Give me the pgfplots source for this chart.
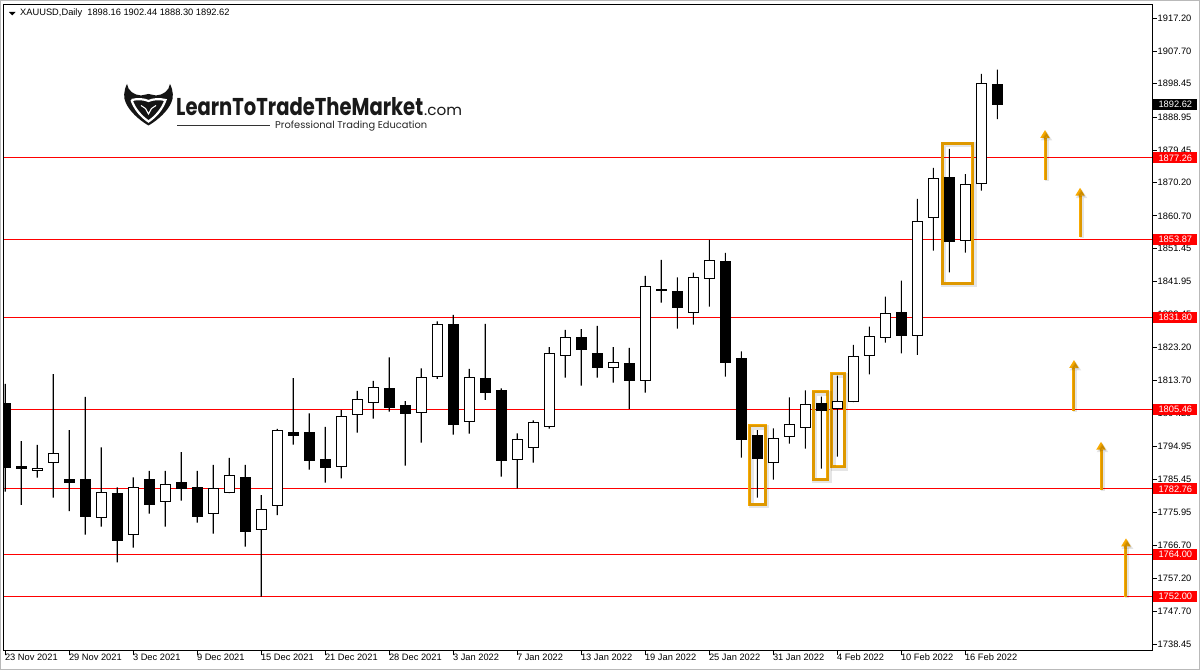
\documentclass[border=0pt]{standalone}
\usepackage{fontspec}
\setmainfont{Liberation Sans}
\newfontfamily\logofont{Poppins}
\usepackage{pgfplots}
\pgfplotsset{compat=1.18}
\usepackage{pgfplotstable}
\usetikzlibrary{arrows.meta}
\definecolor{mtorange}{RGB}{248,170,0}
\definecolor{mtred}{RGB}{255,0,0}
\newcommand\tf{\fontsize{9.3pt}{11pt}\selectfont}

\pgfplotstableread{
i O H L C
0 1806.98 1812.69 1781.93 1788.79
1 1789.27 1796.41 1778.14 1788.50
2 1787.93 1795.27 1785.93 1788.70
3 1790.22 1815.54 1780.22 1792.90
4 1785.56 1799.55 1776.42 1784.50
5 1785.28 1808.98 1769.66 1774.79
6 1774.62 1794.61 1771.94 1781.76
7 1781.56 1783.19 1761.77 1767.94
8 1769.77 1786.05 1765.94 1783.19
9 1785.28 1787.85 1775.65 1778.22
10 1779.19 1787.85 1771.94 1784.05
11 1784.42 1793.27 1779.36 1782.99
12 1783.19 1787.85 1773.08 1774.79
13 1775.65 1789.56 1769.94 1782.99
14 1781.76 1791.56 1781.50 1786.62
15 1786.13 1789.56 1766.23 1770.51
16 1771.20 1780.99 1752.00 1776.91
17 1778.05 1799.84 1775.28 1799.27
18 1798.90 1814.40 1795.41 1797.98
19 1798.90 1804.32 1788.22 1790.79
20 1791.19 1800.41 1784.50 1788.79
21 1789.19 1805.26 1785.76 1803.47
22 1804.04 1810.69 1798.78 1808.32
23 1807.46 1813.55 1802.78 1811.75
24 1811.46 1820.31 1804.78 1805.92
25 1806.61 1807.83 1789.36 1804.21
26 1804.61 1817.17 1795.93 1814.60
27 1814.89 1830.59 1814.12 1829.74
28 1829.54 1832.39 1798.21 1801.07
29 1802.04 1816.97 1798.50 1814.60
30 1814.32 1829.82 1808.12 1810.20
31 1810.69 1811.46 1786.22 1790.79
32 1791.19 1798.61 1782.85 1796.90
33 1794.56 1802.32 1790.22 1801.75
34 1800.61 1823.25 1799.92 1821.46
35 1820.77 1828.11 1814.49 1826.02
36 1826.02 1828.39 1812.20 1822.48
37 1821.46 1829.25 1814.49 1817.34
38 1817.46 1823.25 1813.06 1818.77
39 1818.60 1822.97 1805.55 1813.63
40 1813.75 1843.53 1810.20 1840.59
41 1839.73 1848.10 1835.90 1839.33
42 1839.24 1843.16 1828.48 1834.48
43 1833.16 1844.47 1829.62 1843.16
44 1842.87 1853.81 1834.76 1848.01
45 1847.73 1850.10 1814.77 1818.83
46 1820.03 1822.03 1791.64 1796.78
47 1798.04 1799.55 1780.22 1791.47
48 1790.33 1800.04 1785.36 1797.18
49 1797.75 1808.89 1795.64 1801.07
50 1800.32 1810.89 1794.21 1806.89
51 1806.98 1809.06 1788.50 1804.98
52 1805.55 1815.06 1791.93 1807.83
53 1807.83 1823.83 1807.50 1820.60
54 1820.88 1829.05 1815.46 1826.11
55 1826.02 1837.62 1824.48 1832.88
56 1833.16 1842.19 1821.46 1826.48
57 1826.59 1865.52 1820.97 1859.03
58 1860.29 1874.37 1850.75 1871.43
59 1871.71 1879.79 1844.58 1853.32
60 1853.72 1872.65 1850.18 1869.71
61 1870.00 1901.21 1867.89 1898.55
62 1898.16 1902.44 1888.30 1892.62
}\ohlc

\pgfplotsset{cax/.style={
  scale only axis, width=1149.5pt, height=646pt,
  at={(3pt,19.5pt)}, anchor=south west,
  xmin=-0.144, xmax=71.70, ymin=1736.59, ymax=1921.05,
  scaled x ticks=false, scaled y ticks=false,
}}
\tikzset{
obox/.style={mtorange, line width=3pt},
oshad/.style={black, opacity=0.10, line width=5pt},
oarr/.style={mtorange, line width=3pt, -{Triangle[width=9pt,length=8pt]}},
ashad/.style={black, opacity=0.10, line width=4pt, -{Triangle[width=11pt,length=9pt]}},
plab/.style={anchor=west, fill=mtred, text=white, font=\tf, minimum width=44pt, minimum height=11pt, inner sep=0pt, xshift=0.6pt},
}

\begin{document}
\begin{tikzpicture}[x=1pt,y=1pt]
\useasboundingbox (0,0) rectangle (1200,670);
\fill[white] (0,0) rectangle (1200,670);
\draw[gray!55, line width=1pt] (0.5,0.5) rectangle (1199.5,669.5);

% ---- axis L: levels
\begin{axis}[cax, hide axis, clip=false]
\addplot[mtred, line width=1pt, forget plot] coordinates {(-0.144,1877.26) (71.70,1877.26)};
\addplot[mtred, line width=1pt, forget plot] coordinates {(-0.144,1853.87) (71.70,1853.87)};
\addplot[mtred, line width=1pt, forget plot] coordinates {(-0.144,1831.80) (71.70,1831.80)};
\addplot[mtred, line width=1pt, forget plot] coordinates {(-0.144,1805.46) (71.70,1805.46)};
\addplot[mtred, line width=1pt, forget plot] coordinates {(-0.144,1782.76) (71.70,1782.76)};
\addplot[mtred, line width=1pt, forget plot] coordinates {(-0.144,1764.00) (71.70,1764.00)};
\addplot[mtred, line width=1pt, forget plot] coordinates {(-0.144,1752.00) (71.70,1752.00)};
\end{axis}

% ---- axis W: wicks (low to high)
\begin{axis}[cax, hide axis, ybar stacked, bar width=1.15pt]
\addplot[draw=none, fill=none] table[x=i, y=L] {\ohlc};
\addplot[draw=none, fill=black] table[x=i, y expr={\thisrow{H}-\thisrow{L}}] {\ohlc};
\end{axis}

% ---- axis B: bodies, frame, ticks, annotations
\begin{axis}[cax, ybar stacked, bar width=9.6pt,
  axis line style={black, line width=0.9pt},
  xtick={0,4,...,60},
  xticklabels={23 Nov 2021,29 Nov 2021,3 Dec 2021,9 Dec 2021,15 Dec 2021,21 Dec 2021,28 Dec 2021,3 Jan 2022,7 Jan 2022,13 Jan 2022,19 Jan 2022,25 Jan 2022,31 Jan 2022,4 Feb 2022,10 Feb 2022,16 Feb 2022},
  ytick={1738.45,1747.70,1757.20,1766.70,1775.95,1785.45,1794.95,1804.20,1813.70,1823.20,1832.45,1841.95,1851.45,1860.70,1870.20,1879.45,1888.95,1898.45,1907.70,1917.20},
  yticklabels={1738.45,1747.70,1757.20,1766.70,1775.95,1785.45,1794.95,1804.20,1813.70,1823.20,1832.45,1841.95,1851.45,1860.70,1870.20,1879.45,1888.95,1898.45,1907.70,1917.20},
  xtick pos=bottom, ytick pos=right, yticklabel pos=right,
  tick align=outside, major tick length=4pt,
  tick style={black, line width=0.8pt},
  xticklabel style={anchor=north west, font=\tf, xshift=-1.5pt, yshift=1.5pt, inner sep=1pt},
  yticklabel style={anchor=west, font=\tf, inner sep=1pt},
]
\addplot[draw=none, fill=none] table[x=i, y expr={min(\thisrow{O},\thisrow{C})}] {\ohlc};
\addplot[draw=black, fill=white, line width=1pt] table[x=i, y expr={max(\thisrow{C}-\thisrow{O},0)}] {\ohlc};
\addplot[draw=black, fill=black, line width=1pt] table[x=i, y expr={max(\thisrow{O}-\thisrow{C},0)}] {\ohlc};

% orange boxes (soft shadow then box)
\draw[oshad] ([shift={(1.5pt,-1.5pt)}]axis cs:46.53,1800.75) rectangle ([shift={(1.5pt,-1.5pt)}]axis cs:47.49,1778.37);
\draw[obox] (axis cs:46.53,1800.75) rectangle (axis cs:47.49,1778.37);
\draw[oshad] ([shift={(1.5pt,-1.5pt)}]axis cs:50.51,1810.46) rectangle ([shift={(1.5pt,-1.5pt)}]axis cs:51.41,1785.42);
\draw[obox] (axis cs:50.51,1810.46) rectangle (axis cs:51.41,1785.42);
\draw[oshad] ([shift={(1.5pt,-1.5pt)}]axis cs:51.64,1815.60) rectangle ([shift={(1.5pt,-1.5pt)}]axis cs:52.43,1789.04);
\draw[obox] (axis cs:51.64,1815.60) rectangle (axis cs:52.43,1789.04);
\draw[oshad] ([shift={(1.5pt,-1.5pt)}]axis cs:58.56,1881.45) rectangle ([shift={(1.5pt,-1.5pt)}]axis cs:60.47,1841.39);
\draw[obox] (axis cs:58.56,1881.45) rectangle (axis cs:60.47,1841.39);
% orange arrows
\draw[ashad] ([shift={(1.5pt,-1.5pt)}]axis cs:64.98,1870.94) -- ([shift={(1.5pt,-1.5pt)}]axis cs:64.98,1885.22);
\draw[oarr] (axis cs:64.98,1870.94) -- (axis cs:64.98,1885.22);
\draw[ashad] ([shift={(1.5pt,-1.5pt)}]axis cs:67.17,1854.75) -- ([shift={(1.5pt,-1.5pt)}]axis cs:67.17,1868.74);
\draw[oarr] (axis cs:67.17,1854.75) -- (axis cs:67.17,1868.74);
\draw[ashad] ([shift={(1.5pt,-1.5pt)}]axis cs:66.79,1805.06) -- ([shift={(1.5pt,-1.5pt)}]axis cs:66.79,1819.54);
\draw[oarr] (axis cs:66.79,1805.06) -- (axis cs:66.79,1819.54);
\draw[ashad] ([shift={(1.5pt,-1.5pt)}]axis cs:68.48,1782.42) -- ([shift={(1.5pt,-1.5pt)}]axis cs:68.48,1796.21);
\draw[oarr] (axis cs:68.48,1782.42) -- (axis cs:68.48,1796.21);
\draw[ashad] ([shift={(1.5pt,-1.5pt)}]axis cs:70.04,1751.95) -- ([shift={(1.5pt,-1.5pt)}]axis cs:70.04,1768.63);
\draw[oarr] (axis cs:70.04,1751.95) -- (axis cs:70.04,1768.63);
\end{axis}

% ---- axis C: price labels on the right
\begin{axis}[cax, hide axis, clip=false]
\node[plab] at (axis cs:71.70,1877.26) {1877.26};
\node[plab] at (axis cs:71.70,1853.87) {1853.87};
\node[plab] at (axis cs:71.70,1831.80) {1831.80};
\node[plab] at (axis cs:71.70,1805.46) {1805.46};
\node[plab] at (axis cs:71.70,1782.76) {1782.76};
\node[plab] at (axis cs:71.70,1764.00) {1764.00};
\node[plab] at (axis cs:71.70,1752.00) {1752.00};
\node[plab, fill=black] at (axis cs:71.70,1892.62) {1892.62};
\end{axis}

% ---- header
\fill[black] (9,658) -- (15.5,658) -- (12.25,654.5) -- cycle;
\node[anchor=west, font=\tf, inner sep=0pt] at (20,657) {XAUUSD,Daily\ \ 1898.16 1902.44 1888.30 1892.62};

% ---- logo (image coordinates)
\begin{scope}[shift={(0,670)}, yscale=-1]
% horns / outer shield
\fill[black!92] (127,84) .. controls (128,91) and (134,95) .. (141,95.5) -- (148.5,94) -- (156,95.5) .. controls (163,95) and (169,91) .. (170,84)
  .. controls (173.5,91) and (173.5,98) .. (171.5,102) .. controls (168,111) and (158,120) .. (148.5,125.5)
  .. controls (139,120) and (129,111) .. (125.5,102) .. controls (123.5,98) and (123.5,91) .. (127,84) -- cycle;
% white band
\draw[white, line width=2.2pt] (131.5,100) .. controls (138,98.5) and (144,99) .. (148.5,101) .. controls (153,99) and (159,98.5) .. (165.5,100)
  .. controls (162,110) and (155,117) .. (148.5,121.5) .. controls (142,117) and (135,110) .. (131.5,100);
% face highlights
\draw[white, line width=1.1pt] (141,105.5) -- (145.5,108.5) -- (148.5,114) -- (151.5,108.5) -- (156,105.5);
\node[anchor=base west, inner sep=0pt, text=black!90] at (176,115.3) {\resizebox{247pt}{18pt}{\logofont\bfseries LearnToTradeTheMarket}};
\node[anchor=base west, inner sep=0pt, text=black!90] at (424,115.3) {\resizebox{38pt}{8.3pt}{\logofont .com}};
\draw[black!80, line width=1pt] (177,125.5) -- (270,125.5);
\node[anchor=base west, inner sep=0pt, text=black!85] at (275,128.2) {\resizebox{152pt}{!}{\logofont Professional Trading Education}};
\end{scope}
\end{tikzpicture}
\end{document}
